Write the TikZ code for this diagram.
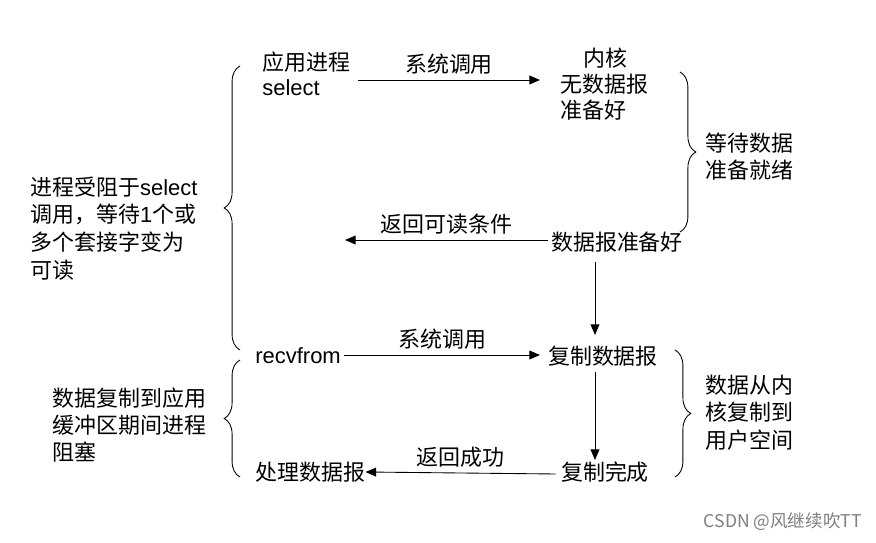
\documentclass[tikz,border=0pt]{standalone}
\usepackage{fontspec}
\setmainfont{Noto Sans CJK SC}
\newfontfamily\lat{Liberation Sans}
\usetikzlibrary{arrows.meta,decorations.pathreplacing}
\begin{document}
\begin{tikzpicture}[x={(0.02cm,0)},y={(0,-0.02cm)},
  t/.style={inner sep=0pt,font=\fontsize{12.5}{15}\selectfont},
  tl/.style={t,anchor=west},
  lab/.style={t,above=3pt},
  arr/.style={-{Triangle[length=6pt,width=5pt]},line width=0.5pt},
  br/.style={decorate,decoration={brace,amplitude=9pt},line width=0.5pt}]
\useasboundingbox[fill=white](0,0) rectangle (876,543);
\node[tl] (a1) at (262,62) {应用进程};
\node[tl] (a2) at (262,88) {\lat select};
\coordinate (s1) at (358,80); \coordinate (e1) at (540,80);
\draw[arr] (s1) -- node[lab] {系统调用} (e1);
\node[t] (k1) at (605,58) {内核};
\node[tl] (k2) at (560,84) {无数据报};
\node[tl] (k3) at (560,110) {准备好};
\coordinate (b1t) at (680,72); \coordinate (b1b) at (680,232);
\draw[br] (b1t) -- (b1b);
\node[tl] (w1) at (705,143) {等待数据};
\node[tl] (w2) at (705,170) {准备就绪};
\node[t] (r1) at (617,242) {数据报准备好};
\coordinate (e2) at (345,240);
\draw[arr] (r1.west) ++(-3,-2) coordinate (s2) -- node[lab] {返回可读条件} (e2);
\node[t] (c1) at (603,356) {复制数据报};
\draw[arr] (595,262) -- (595,335);
\node[tl] (rv) at (255,356) {\lat recvfrom};
\coordinate (e3) at (540,355);
\draw[arr] (rv.east) ++(3,-1) -- node[lab] {系统调用} (e3);
\node[t] (c2) at (605,472) {复制完成};
\draw[arr] (595,372) -- (595,460);
\node[tl] (p1) at (255,472) {处理数据报};
\draw[arr] (c2.west) ++(-5,2) -- node[lab] {返回成功} (p1.east) ;
\coordinate (b2t) at (675,350); \coordinate (b2b) at (675,477);
\draw[br] (b2t) -- (b2b);
\node[tl] (d1) at (705,385) {数据从内};
\node[tl] (d2) at (705,412) {核复制到};
\node[tl] (d3) at (705,440) {用户空间};
\coordinate (b3t) at (240,66); \coordinate (b3b) at (240,350);
\draw[br] (b3b) -- (b3t);
\node[tl] (g1) at (30,187) {进程受阻于{\lat select}};
\node[tl] (g2) at (30,214) {调用，等待{\lat 1}个或};
\node[tl] (g3) at (30,242) {多个套接字变为};
\node[tl] (g4) at (30,270) {可读};
\coordinate (b4t) at (240,360); \coordinate (b4b) at (240,477);
\draw[br] (b4b) -- (b4t);
\node[tl] (h1) at (52,398) {数据复制到应用};
\node[tl] (h2) at (52,425) {缓冲区期间进程};
\node[tl] (h3) at (52,452) {阻塞};
\node[inner sep=0pt,anchor=east,text=gray,font=\fontsize{10}{12}\selectfont] (wm) at (862,522) {CSDN @风继续吹TT};
\end{tikzpicture}
\end{document}
